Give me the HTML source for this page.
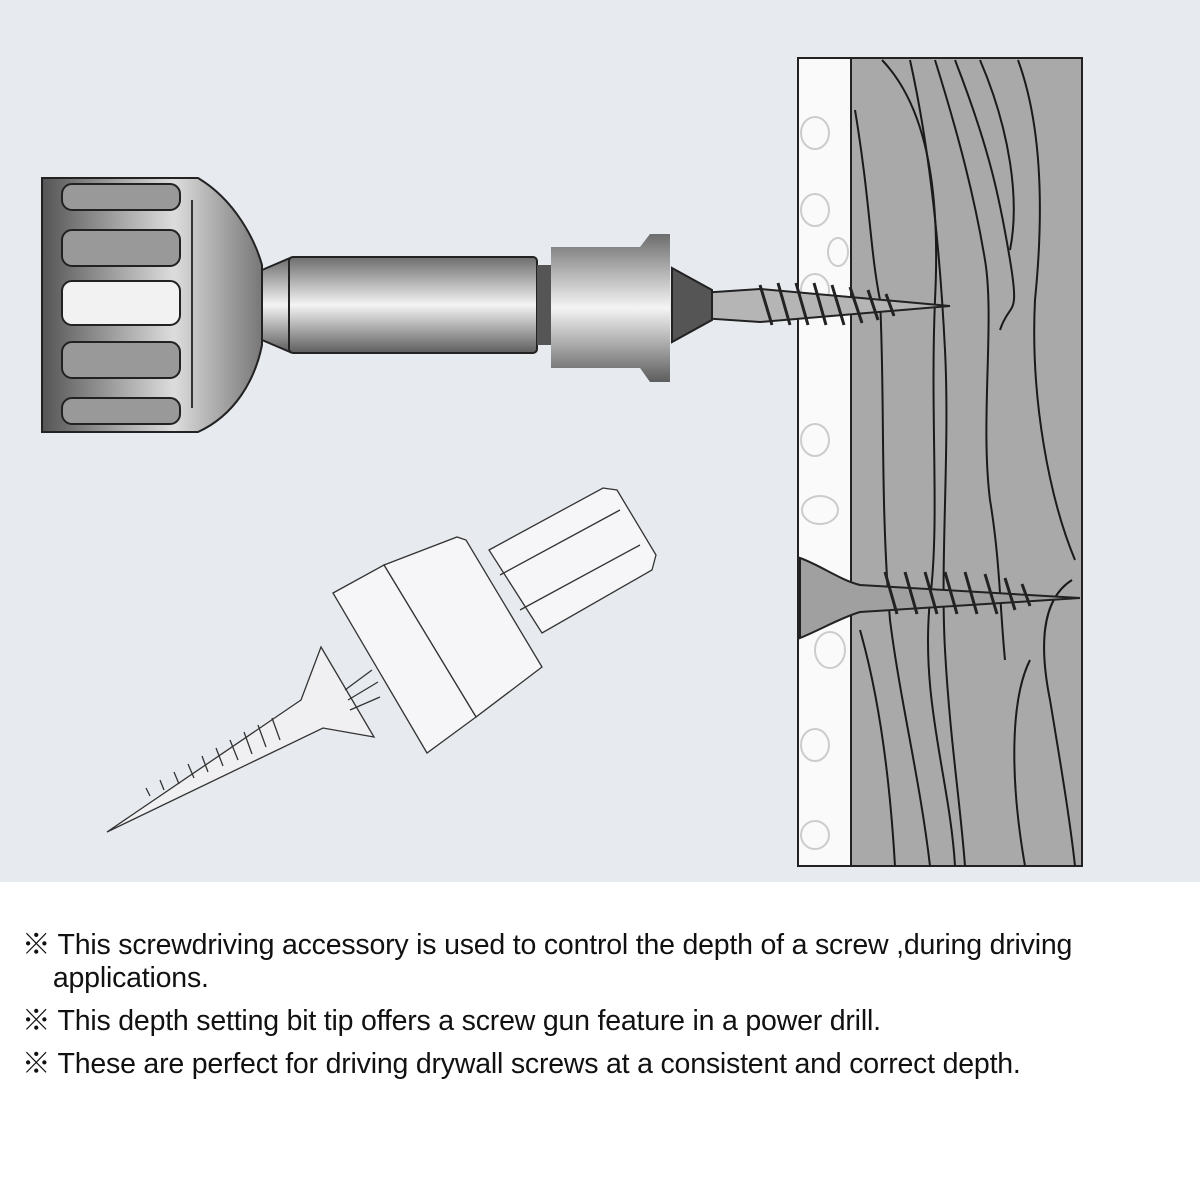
<!DOCTYPE html>
<html><head><meta charset="utf-8"><style>
body{margin:0;width:1200px;height:1200px;background:#fff;overflow:hidden;position:relative;font-family:"Liberation Sans","Noto Sans CJK JP",sans-serif}
svg{position:absolute;left:0;top:0}
.t{position:absolute;left:22px;font-size:28.5px;color:#111;line-height:33px;letter-spacing:-0.2px;white-space:nowrap}
</style></head><body>
<svg width="1200" height="1200" viewBox="0 0 1200 1200">
<defs>
<linearGradient id="cyl" x1="0" y1="0" x2="0" y2="1">
<stop offset="0" stop-color="#6d6d6d"/><stop offset=".5" stop-color="#f4f4f4"/><stop offset="1" stop-color="#5d5d5d"/></linearGradient>
<linearGradient id="chk" x1="0" y1="0" x2="1" y2="0">
<stop offset="0" stop-color="#555"/><stop offset=".6" stop-color="#ddd"/><stop offset="1" stop-color="#777"/></linearGradient>
</defs>
<rect width="1200" height="882" fill="#e7ebef"/>
<!-- wall -->
<rect x="798" y="58" width="284" height="808" fill="#a9a9a9" stroke="#222" stroke-width="2"/>
<rect x="799" y="59" width="51" height="806" fill="#fafafa"/>
<line x1="851" y1="58" x2="851" y2="866" stroke="#222" stroke-width="2"/>
<g fill="none" stroke="#ccc" stroke-width="2">
<ellipse cx="815" cy="133" rx="14" ry="16"/><ellipse cx="815" cy="210" rx="14" ry="16"/><ellipse cx="815" cy="290" rx="14" ry="16"/><ellipse cx="838" cy="252" rx="10" ry="14"/><ellipse cx="815" cy="440" rx="14" ry="16"/><ellipse cx="820" cy="510" rx="18" ry="14"/><ellipse cx="830" cy="650" rx="15" ry="18"/><ellipse cx="815" cy="745" rx="14" ry="16"/><ellipse cx="815" cy="835" rx="14" ry="14"/>
</g>
<g fill="none" stroke="#1a1a1a" stroke-width="2">
<path d="M882 60 C930 110 940 200 935 300 C930 420 940 520 930 600 C920 700 950 780 955 866"/>
<path d="M910 60 C930 150 940 250 945 350 C950 450 940 560 945 650 C950 740 960 800 965 866"/>
<path d="M935 60 C960 140 975 200 985 260 C995 320 980 420 990 500 C1000 560 1000 610 1005 660"/>
<path d="M955 60 C990 150 1000 200 1010 260 C1020 320 1010 300 1000 330"/>
<path d="M980 60 C1010 130 1020 200 1010 250"/>
<path d="M1018 60 C1040 120 1045 200 1035 300 C1030 400 1050 500 1075 560"/>
<path d="M855 110 C870 200 870 250 880 300 C885 400 880 500 890 620 C900 700 920 780 930 866"/>
<path d="M1072 580 C1040 600 1040 650 1050 700 C1060 760 1070 820 1075 866"/>
<path d="M1030 660 C1010 700 1010 780 1025 866"/>
<path d="M860 630 C880 700 890 780 895 866"/>
</g>
<!-- upper screw -->
<path d="M700 293 L760 289 L950 306 L760 322 L700 318 Z" fill="#b5b5b5" stroke="#222" stroke-width="2"/>
<g stroke="#222" stroke-width="3" fill="#888">
<path d="M760 285 l12 40 M778 283 l12 42 M796 283 l12 42 M814 283 l12 42 M832 285 l12 40 M850 287 l12 36 M868 290 l10 30 M886 294 l8 22"/>
</g>
<path d="M672 268 L712 290 L712 320 L672 342 Z" fill="#555" stroke="#222" stroke-width="2"/>
<!-- lower screw -->
<path d="M800 558 C820 565 840 580 860 585 L1080 598 L860 612 C840 618 820 630 800 638 Z" fill="#a0a0a0" stroke="#222" stroke-width="2"/>
<g stroke="#222" stroke-width="3" fill="none">
<path d="M885 572 l12 42 M905 572 l12 42 M925 572 l12 42 M945 572 l12 42 M965 572 l12 42 M985 574 l12 40 M1005 578 l10 32 M1022 584 l8 22"/>
</g>
<!-- chuck -->
<path d="M42 178 L198 178 C235 200 255 240 262 265 L262 345 C255 380 235 415 198 432 L42 432 Z" fill="url(#chk)" stroke="#222" stroke-width="2"/>
<line x1="192" y1="200" x2="192" y2="408" stroke="#333" stroke-width="2"/>
<g fill="#999" stroke="#222" stroke-width="2">
<rect x="62" y="184" width="118" height="26" rx="10"/>
<rect x="62" y="230" width="118" height="36" rx="10"/>
<rect x="62" y="281" width="118" height="44" rx="10" fill="#f2f2f2"/>
<rect x="62" y="342" width="118" height="36" rx="10"/>
<rect x="62" y="398" width="118" height="26" rx="10"/>
</g>
<path d="M262 270 L290 258 L290 352 L262 340 Z" fill="url(#cyl)" stroke="#222" stroke-width="2"/>
<rect x="289" y="257" width="248" height="96" rx="4" fill="url(#cyl)" stroke="#222" stroke-width="2"/>
<rect x="537" y="265" width="14" height="80" fill="#555"/>
<path d="M551 247 L640 247 L650 234 L670 234 L670 382 L650 382 L640 368 L551 368 Z" fill="url(#cyl)"/>
<!-- lower bit -->
<g stroke="#333" stroke-width="1.3" fill="#f6f6f8">
<path d="M489 550 L603 488 L617 490 L656 555 L652 570 L542 633 Z"/>
<path d="M500 575 L620 510 M520 610 L640 545" fill="none"/>
<path d="M384 565 L457 537 L466 540 L542 667 L476 717 Z"/>
<path d="M333 593 L384 565 L476 717 L427 753 Z"/>
<path d="M321 647 L374 737 L323 728 L107 832 L301 700 Z" fill="#f0f0f2"/>
<path d="M345 690 L372 670 M348 700 L378 682 M350 710 L380 697" fill="none"/>
<path d="M272 718 l8 22 M258 725 l8 22 M244 732 l8 22 M230 740 l8 20 M216 748 l7 18 M202 756 l6 16 M188 764 l6 14 M174 772 l5 12 M160 780 l4 10 M146 788 l4 8" fill="none"/>
</g>
</svg>
<div class="t" style="top:929px">※ This screwdriving accessory is used to control the depth of a screw ,during driving<br>&nbsp;&nbsp;&nbsp;&nbsp;applications.</div>
<div class="t" style="top:1005px">※ This depth setting bit tip offers a screw gun feature in a power drill.</div>
<div class="t" style="top:1048px">※ These are perfect for driving drywall screws at a consistent and correct depth.</div>
</body></html>
